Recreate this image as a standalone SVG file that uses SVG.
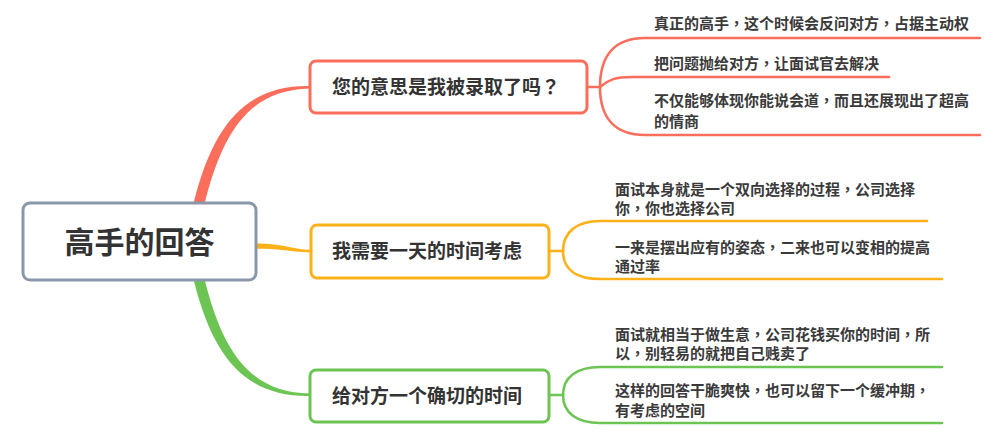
<svg xmlns="http://www.w3.org/2000/svg" width="1000" height="432" viewBox="0 0 1000 432">
<style>
.bg{fill:#ffffff}
.node{fill:#ffffff;stroke-width:3}
.t{font-family:"Noto Sans CJK SC","Noto Sans",sans-serif;fill:#333333}
.p{font-family:"Noto Sans CJK TC","Noto Sans CJK SC",sans-serif}
.main{font-size:30px;font-weight:bold}
.sub{font-size:19px;font-weight:bold}
.leaf{font-size:15px;font-weight:bold;fill:#3a3a3a}
.ln{fill:none;stroke-width:2.6;stroke-linecap:round}
.red{stroke:#fb6e5b}
.yel{stroke:#fcb119}
.grn{stroke:#6cc552}
</style>
<rect class="bg" x="0" y="0" width="1000" height="432"/>
<g id="connectors">
  <path d="M193,206 C213,122 248,85 310,86 L310,88.5 C252,89.5 223,128 204,206 Z" fill="#fb6e5b"/>
  <path d="M193,277 C213,361 248,397 310,396 L310,393.5 C252,392.5 223,355 204,277 Z" fill="#6cc552"/>
  <path d="M254,243.5 C286,243.5 292,249.8 311,249.8 L311,252.4 C292,252.4 286,248.8 254,248.8 Z" fill="#fcb119"/>
  <path class="ln red" d="M587,87 L600,87"/>
  <path class="ln red" d="M600,87 C600,55 615,38 645,38 L980,38"/>
  <path class="ln red" d="M600,87 C608,80 615,77 632,77 L889,77"/>
  <path class="ln red" d="M600,87 C600,118 615,135 645,135 L980,135"/>
  <path class="ln yel" d="M549,251 L563,251"/>
  <path class="ln yel" d="M563,251 C563,232 577,221 600,221 L927,221"/>
  <path class="ln yel" d="M563,251 C563,270 577,279 600,279 L942,279"/>
  <path class="ln grn" d="M549,395 L563,395"/>
  <path class="ln grn" d="M563,395 C563,377 577,367 600,367 L942,367"/>
  <path class="ln grn" d="M563,395 C563,413 577,423 600,423 L942,423"/>
</g>
<g id="root">
  <rect class="node" x="23" y="203" width="233" height="77" rx="7" stroke="#8a97ab"/>
  <text class="t main" x="139.5" y="253" text-anchor="middle">高手的回答</text>
</g>
<g id="branch1">
  <rect class="node red" x="310" y="61" width="277" height="52" rx="6"/>
  <text class="t sub" x="332" y="94">您的意思是我被录取了吗<tspan class="p">？</tspan></text>
</g>
<g id="branch2">
  <rect class="node yel" x="311" y="225" width="238" height="53" rx="6"/>
  <text class="t sub" x="332" y="258">我需要一天的时间考虑</text>
</g>
<g id="branch3">
  <rect class="node grn" x="310" y="370" width="239" height="52" rx="6"/>
  <text class="t sub" x="332" y="403">给对方一个确切的时间</text>
</g>
<g id="leaf1a"><text class="t leaf" x="654" y="29">真正的高手<tspan class="p">，</tspan>这个时候会反问对方<tspan class="p">，</tspan>占据主动权</text></g>
<g id="leaf1b"><text class="t leaf" x="654" y="69">把问题抛给对方<tspan class="p">，</tspan>让面试官去解决</text></g>
<g id="leaf1c"><text class="t leaf" x="654" y="106">不仅能够体现你能说会道<tspan class="p">，</tspan>而且还展现出了超高</text><text class="t leaf" x="654" y="127">的情商</text></g>
<g id="leaf2a"><text class="t leaf" x="615" y="195">面试本身就是一个双向选择的过程<tspan class="p">，</tspan>公司选择</text><text class="t leaf" x="615" y="214">你<tspan class="p">，</tspan>你也选择公司</text></g>
<g id="leaf2b"><text class="t leaf" x="615" y="253">一来是摆出应有的姿态<tspan class="p">，</tspan>二来也可以变相的提高</text><text class="t leaf" x="615" y="272">通过率</text></g>
<g id="leaf3a"><text class="t leaf" x="615" y="340">面试就相当于做生意<tspan class="p">，</tspan>公司花钱买你的时间<tspan class="p">，</tspan>所</text><text class="t leaf" x="615" y="359">以<tspan class="p">，</tspan>别轻易的就把自己贱卖了</text></g>
<g id="leaf3b"><text class="t leaf" x="615" y="396">这样的回答干脆爽快<tspan class="p">，</tspan>也可以留下一个缓冲期<tspan class="p">，</tspan></text><text class="t leaf" x="615" y="416">有考虑的空间</text></g>
</svg>
